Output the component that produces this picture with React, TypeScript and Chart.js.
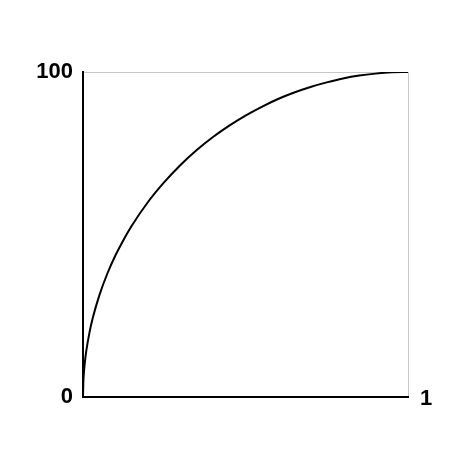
import { useEffect, useRef } from "react";
import { Chart, registerables, type ChartConfiguration } from "chart.js";

Chart.register(...registerables);

// curve points
const xs = [0, 0.001, 0.0025, 0.005, 0.01, 0.02, 0.03, 0.05, 0.075, 0.1, 0.125, 0.15, 0.2, 0.25, 0.3, 0.35, 0.4, 0.45, 0.5, 0.55, 0.6, 0.65, 0.7, 0.75, 0.8, 0.85, 0.9, 0.95, 1];
const ys = [0, 4.5, 7.1, 10, 14.1, 19.9, 24.3, 31.2, 38, 43.6, 48.4, 52.7, 60, 66.1, 71.4, 76, 80, 83.5, 86.6, 89.3, 91.7, 93.7, 95.4, 96.8, 98, 98.9, 99.5, 99.9, 100];
const yTicks = [0, 100];
const xTicks = [0, 1];
const xEndLabel = "1";

const FONT = "'Liberation Sans', Arial, sans-serif";
const GREY = "#c8c8c8";

const endLabel = {
  id: "endLabel",
  afterDraw(chart: Chart) {
    const { ctx, chartArea, scales } = chart;
    ctx.save();
    ctx.font = `bold 22px ${FONT}`;
    ctx.fillStyle = "#000";
    ctx.textAlign = "left";
    ctx.textBaseline = "middle";
    ctx.fillText(xEndLabel, scales.x.getPixelForValue(1) + 12, chartArea.bottom + 2);
    ctx.restore();
  },
};

export default function App() {
  const ref = useRef<HTMLCanvasElement>(null);
  useEffect(() => {
    document.body.style.margin = "0";
    if (!ref.current) return;
    const cfg: ChartConfiguration = {
      type: "line",
      data: {
        datasets: [{
          data: xs.map((x, i) => ({ x, y: ys[i] })),
          borderColor: "#000", borderWidth: 2, pointRadius: 0, fill: false,
          cubicInterpolationMode: "monotone",
        }],
      },
      options: {
        responsive: false, animation: false,
        layout: { padding: { left: 0, top: 72, right: 66, bottom: 0 } },
        plugins: { legend: { display: false }, tooltip: { enabled: false } },
        scales: {
          x: {
            type: "linear", min: 0, max: 1,
            afterBuildTicks: (s: any) => { s.ticks = xTicks.map((value) => ({ value })); },
            afterFit: (s: any) => { s.height = 77; },
            ticks: { display: false },
            grid: { drawTicks: false, color: (c: any) => (c.tick?.value === 1 ? GREY : "transparent"), lineWidth: 1 },
            border: { display: true, color: "#000", width: 2 },
          },
          y: {
            min: 0, max: 100,
            afterBuildTicks: (s: any) => { s.ticks = yTicks.map((value) => ({ value })); },
            afterFit: (s: any) => { s.width = 83; },
            ticks: { color: "#000", padding: 10, font: { family: FONT, size: 22, weight: "bold" } },
            grid: { drawTicks: false, color: (c: any) => (c.tick?.value === 100 ? GREY : "transparent"), lineWidth: 1 },
            border: { display: true, color: "#000", width: 2 },
          },
        },
      },
      plugins: [endLabel],
    };
    const chart = new Chart(ref.current, cfg);
    return () => chart.destroy();
  }, []);
  return <canvas ref={ref} width={474} height={474} style={{ display: "block", width: 474, height: 474 }} />;
}
